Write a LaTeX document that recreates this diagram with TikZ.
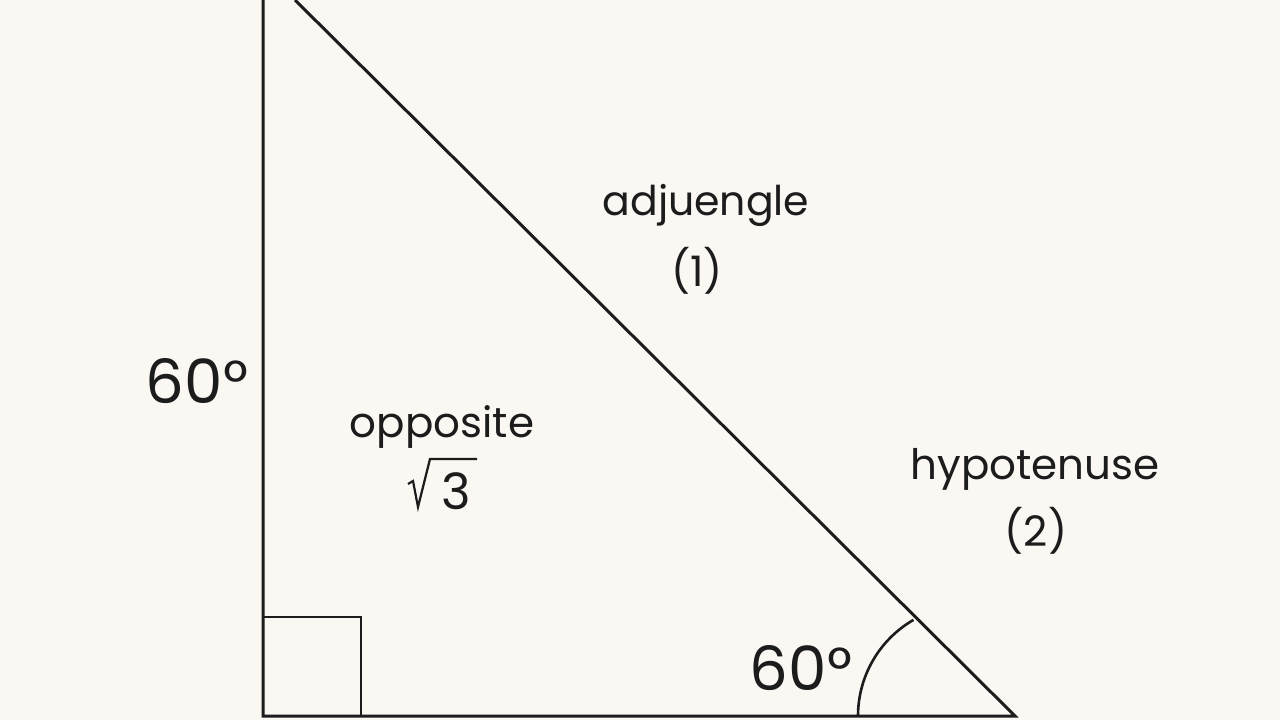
\documentclass[tikz,border=0pt]{standalone}
\usepackage{fontspec}
\setmainfont{Poppins}
\definecolor{bg}{HTML}{FBF8F3}
\definecolor{ink}{HTML}{1C1C1C}
\begin{document}
\begin{tikzpicture}[x=1pt,y=-1pt,
  edge/.style={draw=ink,line width=3pt},
  thin/.style={draw=ink,line width=2.6pt},
  rad/.style={draw=ink,line width=2.2pt,line join=miter},
  lbl/.style={text=ink,inner sep=0pt,anchor=center},
  big/.style={lbl,font=\fontsize{61}{70}\selectfont},
  mid/.style={lbl,font=\fontsize{42}{48}\selectfont}]
\fill[bg] (0,0) rectangle (1280,720);
\useasboundingbox (0,0) rectangle (1280,720);
\coordinate (top) at (263,0);
\coordinate (rc) at (263,716);
\coordinate (br) at (1015,716);
\coordinate (htop) at (295,0);
\draw[edge] (top) -- (rc) -- (br) -- (htop);
\draw[thin] (263,617) -- (361,617) -- (361,716);
\draw[thin] (858,716) arc[start angle=180,end angle=240,radius=111];
\node[big] (a1) at (197,381) {60°};
\node[big] (a2) at (801,668) {60°};
\node[mid] (opp) at (442,427) {opposite};
\node[lbl,font=\fontsize{50}{56}\selectfont] (s3) at (456,491) {3};
\draw[rad] (408,484) -- (413,481) -- (418,507) -- (430,459) -- (477,459);
\node[mid,font=\fontsize{41}{48}\selectfont] (adj) at (706,205) {adjuengle};
\node[mid] (one) at (697,271) {(1)};
\node[mid] (hyp) at (1035,469) {hypotenuse};
\node[mid] (two) at (1036,531) {(2)};
\end{tikzpicture}
\end{document}
